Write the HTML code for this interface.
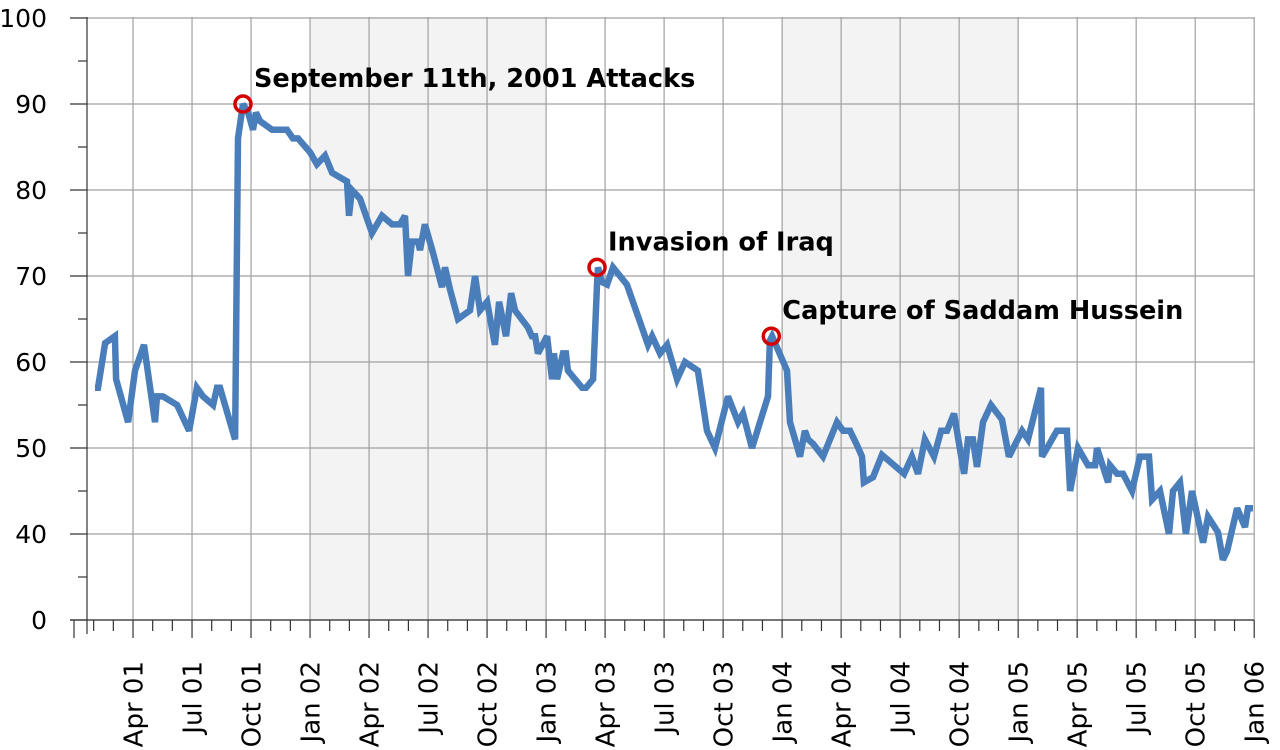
<!DOCTYPE html>
<html><head><meta charset="utf-8"><style>
html,body{margin:0;padding:0;background:#fff;}
svg{display:block;font-family:"DejaVu Sans","Liberation Sans",sans-serif;}
</style></head><body>
<svg id="chart" width="1280" height="750" viewBox="0 0 1280 750" xmlns="http://www.w3.org/2000/svg">
<g id="bands"></g>
<g id="grid"></g>
<g id="axes"></g>
<g id="series"></g>
<g id="notes"></g>
</svg>
<script>
// months since Jan 2001
const months = [1.07,1.22,1.58,2.08,2.14,2.75,3.10,3.56,4.12,4.22,4.52,5.24,5.85,6.25,6.56,7.07,7.27,7.42,8.19,8.34,8.59,8.85,9.10,9.25,9.46,10.07,10.83,11.13,11.39,12.00,12.35,12.76,13.12,13.88,13.98,14.13,14.54,15.15,15.66,16.17,16.57,16.83,16.98,17.18,17.49,17.59,17.84,18.25,18.71,18.86,19.12,19.52,20.13,20.39,20.64,21.00,21.40,21.61,21.96,22.22,22.42,23.08,23.28,23.44,23.59,24.05,24.30,24.40,24.56,24.86,25.01,25.11,25.47,25.83,26.03,26.39,26.59,26.64,26.84,27.10,27.40,28.11,29.18,29.39,29.79,30.15,30.66,31.06,31.72,32.18,32.59,33.25,33.76,34.01,34.47,35.28,35.38,35.49,36.25,36.40,36.91,37.16,37.32,37.57,38.08,38.79,39.10,39.45,39.81,40.06,40.16,40.62,41.08,42.20,42.60,42.91,43.26,43.72,44.08,44.38,44.74,45.25,45.45,45.70,45.91,46.21,46.62,47.18,47.53,48.20,48.50,49.16,49.21,49.47,49.97,50.48,50.64,51.04,51.55,51.91,52.01,52.57,52.67,53.03,53.33,53.79,54.19,54.65,54.81,55.21,55.67,55.87,56.23,56.53,56.84,57.40,57.65,57.85,58.16,58.41,58.62,59.13,59.53,59.68,59.94];
const approval = [57,57,62.2,63,58,53,59,62,53,56,56,55,52,57,56,55,57,57,51,86,90,89,87,89,88,87,87,86,86,84.4,83,84,82,81,77,80,79,75,77,76,76,77,70,74,74,73,76,72.7,68.7,71,68.4,65,66,70,66,67,62,67,63,68,66,64,63,63,61,63,58,61,58,61,61,59,58,57,57,58,69,71,69.3,69,71,69,62,63,61,62,58,60,59,52,50,56,53,54,50,56,62.5,63,59,53,49,52,51,50.5,49,53,52,52,50.3,49,46,46.6,49.2,47,49,47,51,49,52,52,54,47,51,51,47.8,53,55,53.3,49,52,51,57,49,50,52,52,45,50,48,48,50,46,48,47,47,45,49,49,44,45,40,45,46,40,45,39,42,41.3,40.2,37,38,43,40.8,43,43];
const yTicks = [0,40,50,60,70,80,90,100];
const xTickLabels = ["Apr 01","Jul 01","Oct 01","Jan 02","Apr 02","Jul 02","Oct 02","Jan 03","Apr 03","Jul 03","Oct 03","Jan 04","Apr 04","Jul 04","Oct 04","Jan 05","Apr 05","Jul 05","Oct 05","Jan 06"];
const xTickMonths = [3,6,9,12,15,18,21,24,27,30,33,36,39,42,45,48,51,54,57,60];
const shadedYears = [[12,24],[36,48]];
const eventLabels = ["September 11th, 2001 Attacks","Invasion of Iraq","Capture of Saddam Hussein"];
const eventMonths = [8.59,26.59,35.45];
const eventValues = [90,71,63];

const NS="http://www.w3.org/2000/svg";
const X0=74, MW=19.67, XL=87, XR=1254;
const x = m => X0 + m*MW;
const y = v => 534 - (v-40)*8.6;
const tickY = v => v===0 ? 620 : y(v);
function mk(tag, attrs, parent){const e=document.createElementNS(NS,tag);for(const k in attrs)e.setAttribute(k,attrs[k]);parent.appendChild(e);return e;}
const bands=document.getElementById('bands'), grid=document.getElementById('grid'), axes=document.getElementById('axes'), series=document.getElementById('series'), notes=document.getElementById('notes');

shadedYears.forEach(b=>{
  const r=mk('rect',{x:x(b[0]),y:17,width:x(b[1])-x(b[0]),height:603,fill:'#f3f3f3'},bands);
  
  
});
yTicks.forEach(v=>{
  const yy=tickY(v);
  const l=mk('line',{x1:XL,x2:XR,y1:yy,y2:yy,stroke:'#a0a0a0','stroke-width':1.2},grid);
  
  
  mk('line',{x1:70,x2:XL,y1:yy,y2:yy,stroke:'#333','stroke-width':1.2},axes);
  const t=mk('text',{x:47,y:yy+9,'text-anchor':'end','font-size':25,fill:'#000'},axes);
  t.textContent=v;
  
  
});
for(let v=45; v<100; v+=10){const yy=y(v);mk('line',{x1:78,x2:XL,y1:yy,y2:yy,stroke:'#333','stroke-width':1.2},axes);}
mk('line',{x1:78,x2:XL,y1:577,y2:577,stroke:'#333','stroke-width':1.2},axes);
xTickMonths.forEach((m,i)=>{
  const xx=x(m);
  const l=mk('line',{x1:xx,x2:xx,y1:17,y2:620,stroke:'#a0a0a0','stroke-width':1.2},grid);
  
  
  mk('line',{x1:xx,x2:xx,y1:620,y2:638,stroke:'#333','stroke-width':1.2},axes);
  const t=mk('text',{transform:`translate(${xx+9.5},661) rotate(-90)`,'text-anchor':'end','font-size':26,fill:'#000'},axes);
  t.textContent=xTickLabels[i];
  
  
});
for(let m=1;m<60;m++){ if(m%3){const xx=x(m);mk('line',{x1:xx,x2:xx,y1:620,y2:631,stroke:'#333','stroke-width':1.2},axes);} }
mk('line',{x1:x(0),x2:x(0),y1:620,y2:638,stroke:'#333','stroke-width':1.2},axes);
mk('line',{x1:XL,x2:XL,y1:17,y2:634,stroke:'#333','stroke-width':1.2},axes);
mk('line',{x1:70,x2:XR,y1:620,y2:620,stroke:'#333','stroke-width':1.2},axes);

const p=mk('polyline',{points:months.map((m,i)=>x(m).toFixed(1)+','+y(approval[i]).toFixed(1)).join(' '),fill:'none',stroke:'#4a7ebb','stroke-width':6.5,'stroke-linejoin':'miter','stroke-miterlimit':3},series);



eventLabels.forEach((lab,i)=>{
  const cx=x(eventMonths[i]), cy=y(eventValues[i]);
  const c=mk('circle',{cx:cx,cy:cy,r:8,fill:'none',stroke:'#d40000','stroke-width':3.5},notes);
  
  
  const t=mk('text',{x:cx+11,y:cy-17,'font-size':25.6,'font-weight':'bold',fill:'#000'},notes);
  t.textContent=lab;
  
  
});
</script>
</body></html>
